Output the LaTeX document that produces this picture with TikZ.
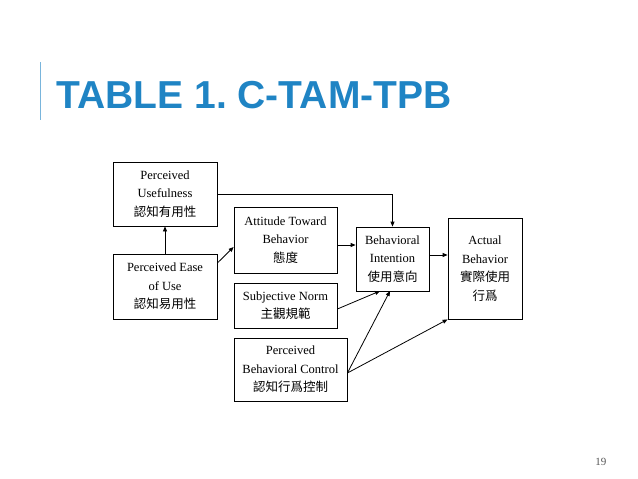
\documentclass[tikz,border=0pt]{standalone}
\usepackage{fontspec}
\setmainfont{Liberation Serif}
\newfontfamily\titlefont{Liberation Sans}
\newfontfamily\cjk{Noto Sans CJK TC}
\usetikzlibrary{arrows.meta}
\definecolor{tblue}{HTML}{1F84C4}
\definecolor{tgray}{HTML}{555555}
\frenchspacing
\begin{document}
\begin{tikzpicture}[x=1pt,y=-1pt,
  box/.style={draw,line width=0.8pt,inner sep=0pt,align=center,font=\fontsize{12.5}{18.5}\selectfont},
  arr/.style={-{Triangle[length=5pt,width=4pt]},line width=0.8pt}]
\useasboundingbox (0,0) rectangle (638,479);
\draw[tblue!60,line width=1pt] (40,62) -- (40,120);
\node[anchor=west,text=tblue,font=\titlefont\bfseries\fontsize{39}{42}\selectfont] (title) at (53,95) {TABLE 1. C-TAM-TPB};
\node[anchor=east,text=tgray,font=\fontsize{11}{12}\selectfont] (pg) at (610,462) {19};
\node[box,minimum width=104pt,minimum height=64pt] (pu) at (165,194) {Perceived\\Usefulness\\{\cjk 認知有用性}};
\node[box,minimum width=104pt,minimum height=65pt] (peu) at (165,286.5) {Perceived Ease\\of Use\\{\cjk 認知易用性}};
\node[box,minimum width=103pt,minimum height=66pt] (atb) at (285.5,240) {Attitude Toward\\Behavior\\{\cjk 態度}};
\node[box,minimum width=103pt,minimum height=45pt] (sn) at (285.5,305.5) {Subjective Norm\\{\cjk 主觀規範}};
\node[box,minimum width=113pt,minimum height=63pt] (pbc) at (290.5,369.5) {Perceived\\Behavioral Control\\{\cjk 認知行爲控制}};
\node[box,minimum width=73pt,minimum height=64pt] (bi) at (392.5,259) {Behavioral\\Intention\\{\cjk 使用意向}};
\node[box,minimum width=74pt,minimum height=101pt] (ab) at (485,268.5) {Actual\\Behavior\\{\cjk 實際使用}\\{\cjk 行爲}};
\draw[arr] (peu.north) -- (pu.south);
\draw[arr] (peu.east |- 0,263) -- (atb.west |- 0,247);
\draw[arr] (pu.east) -- (bi.north |- pu.east) -- (bi.north);
\draw[arr] (atb.east |- 0,245) -- (bi.west |- 0,245);
\draw[arr] (bi.east |- 0,255) -- (ab.west |- 0,255);
\draw[arr] (sn.east |- 0,309) -- (380,291);
\draw[arr] (pbc.east |- 0,373) -- (390,291);
\draw[arr] (pbc.east |- 0,373) -- (ab.south west);
\end{tikzpicture}
\end{document}
